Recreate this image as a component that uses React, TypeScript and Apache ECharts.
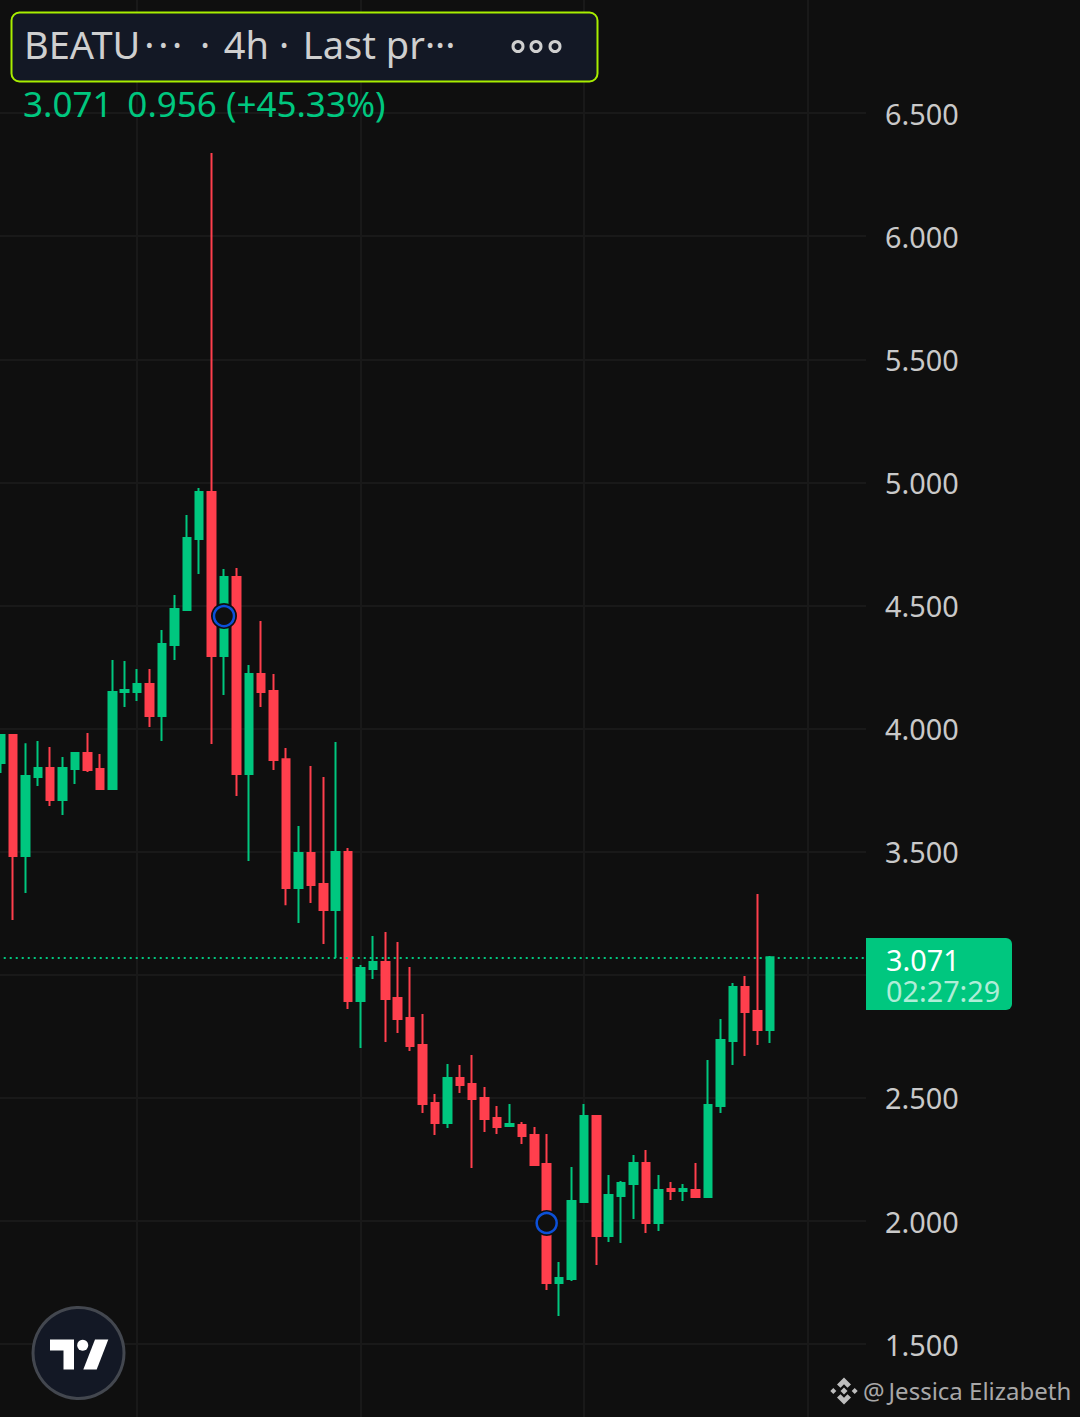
import React, { useEffect, useRef } from "react";
import * as echarts from "echarts";

const opens = [3.860,3.974,3.483,3.803,3.840,3.710,3.836,3.901,3.836,3.755,4.149,4.149,4.181,4.051,4.340,4.482,4.770,4.961,4.295,4.616,3.816,4.222,4.153,3.876,3.353,3.495,3.369,3.263,3.499,2.894,3.024,3.052,2.906,2.825,2.715,2.479,2.398,2.581,2.556,2.500,2.418,2.386,2.390,2.349,2.232,1.748,1.764,2.077,2.426,1.939,2.102,2.150,2.236,1.992,2.130,2.122,2.126,2.097,2.467,2.731,2.950,2.853,2.776];
const closes = [3.974,3.483,3.807,3.840,3.710,3.840,3.901,3.832,3.755,4.149,4.157,4.181,4.051,4.344,4.486,4.774,4.961,4.295,4.616,3.816,4.222,4.149,3.872,3.353,3.495,3.365,3.263,3.499,2.894,3.028,3.052,2.902,2.820,2.711,2.475,2.398,2.581,2.552,2.496,2.414,2.382,2.394,2.345,2.227,1.748,1.768,2.081,2.426,1.939,2.106,2.154,2.236,1.992,2.126,2.122,2.130,2.097,2.471,2.735,2.950,2.849,2.776,3.071];
const lows = [3.820,3.223,3.332,3.767,3.686,3.649,3.775,3.824,3.755,3.755,4.088,4.112,4.006,3.950,4.279,4.482,4.628,3.937,4.136,3.726,3.462,4.088,3.832,3.283,3.210,3.292,3.125,3.068,2.861,2.703,2.983,2.727,2.764,2.690,2.439,2.349,2.378,2.520,2.215,2.361,2.353,2.382,2.313,2.227,1.720,1.614,1.756,2.077,1.821,1.915,1.911,2.008,1.951,1.959,2.085,2.081,2.093,2.097,2.439,2.634,2.670,2.715,2.723];
const highs = [3.974,3.978,3.941,3.950,3.925,3.885,3.901,3.982,3.897,4.279,4.275,4.242,4.242,4.400,4.543,4.868,4.977,6.338,4.648,4.652,4.258,4.437,4.222,3.921,3.604,3.848,3.803,3.946,3.515,3.040,3.158,3.174,3.133,3.032,2.841,2.516,2.638,2.634,2.674,2.544,2.467,2.475,2.402,2.382,2.353,1.833,2.219,2.475,2.431,2.187,2.162,2.268,2.288,2.187,2.158,2.150,2.236,2.654,2.820,2.967,2.995,3.328,3.076];

// Bars sit on a slot axis whose day gridlines fall on multiples of 18 slots.
const firstSlot = 7;
const lastPrice = 3.071;
const markerPoints = [[25, 4.457], [51, 1.992]];
const headerTitle = "BEATU\u200a\u00b7\u200a\u00b7\u200a\u00b7";
const headerRest = "\u00b7 \u200a4h \u00b7 \u200aLast pr\u00b7\u00b7\u00b7";
const headerValues = "3.071 \u20090.956 (+45.33%)";
const tagPrice = "3.071";
const tagCountdown = "02:27:29";
const watermark = "@\u2009Jessica Elizabeth";

const GREEN = "#00C77F";
const RED = "#FF3F4D";
const BG = "#0F0F0F";
const GRID = "#191919";
const PANEL = "#131825";
const FONT = '"Noto Sans", sans-serif';

export default function App() {
  const ref = useRef<HTMLDivElement>(null);
  useEffect(() => {
    const chart = echarts.init(ref.current!, undefined, { renderer: "svg" });
    const candleData = opens.map((o, i) => [firstSlot + i, o, closes[i], lows[i], highs[i]]);
    const wm = (pts: number[][]) => ({
      type: "polygon",
      z: 10,
      shape: { points: pts.map(([a, b]) => [844 + a, 1391 + b]) },
      style: { fill: "#BDBDBD" },
    });
    chart.setOption({
      animation: false,
      backgroundColor: BG,
      grid: { left: -86.27, top: -10, width: 952.27, height: 1477.2, containLabel: false, outerBoundsMode: "none" },
      xAxis: {
        type: "value",
        min: 0,
        max: 76.73,
        interval: 18,
        axisLine: { show: false },
        axisTick: { show: false },
        axisLabel: { show: false },
        splitLine: { show: true, showMaxLine: false, lineStyle: { color: GRID, width: 2 } },
      },
      yAxis: {
        type: "value",
        position: "right",
        min: 1,
        max: 7,
        interval: 0.5,
        axisLine: { show: false },
        axisTick: { show: false },
        splitLine: { show: true, lineStyle: { color: GRID, width: 2 } },
        axisLabel: {
          show: true,
          align: "left",
          margin: 19,
          padding: [0, 0, 3, 0],
          color: "#C9C9C9",
          fontFamily: FONT,
          fontSize: 28.8,
          formatter: (v: number) => (v === 1 || v === 7 || v === 3 ? "" : v.toFixed(3)),
        },
      },
      series: [
        {
          type: "candlestick",
          data: candleData,
          encode: { x: 0, y: [1, 2, 3, 4] },
          barWidth: 8,
          clip: true,
          itemStyle: {
            color: GREEN,
            color0: RED,
            borderColor: GREEN,
            borderColor0: RED,
            borderWidth: 2,
          },
          markLine: {
            silent: true,
            symbol: "none",
            label: { show: false },
            lineStyle: { color: GREEN, type: [2, 4], width: 2 },
            data: [{ yAxis: lastPrice }],
          },
        },
        {
          type: "scatter",
          data: markerPoints,
          symbolSize: 26,
          z: 3,
          itemStyle: { color: BG, opacity: 1 },
        },
        {
          type: "scatter",
          data: markerPoints,
          symbolSize: 20,
          z: 4,
          itemStyle: { color: BG, borderColor: "#0C50D8", borderWidth: 2.5, opacity: 1 },
        },
      ],
      graphic: [
        {
          type: "rect",
          z: 10,
          shape: { x: 11.5, y: 12.5, width: 586, height: 69, r: 8 },
          style: { fill: PANEL, stroke: "#A8EE00", lineWidth: 2 },
        },
        {
          type: "text", z: 11, x: 24, y: 44,
          style: { text: headerTitle, fill: "#CFCFCF", font: `38px ${FONT}`, verticalAlign: "middle" },
        },
        {
          type: "text", z: 11, x: 200, y: 44,
          style: { text: headerRest, fill: "#CFCFCF", font: `38px ${FONT}`, verticalAlign: "middle" },
        },
        ...[518, 536, 555].map((x) => ({
          type: "circle", z: 11,
          shape: { cx: x, cy: 46.5, r: 5 },
          style: { fill: "none", stroke: "#CFCFCF", lineWidth: 3 },
        })),
        {
          type: "text", z: 11, x: 23, y: 103,
          style: { text: headerValues, fill: GREEN, font: `35px ${FONT}`, verticalAlign: "middle" },
        },
        {
          type: "rect",
          z: 10,
          shape: { x: 866, y: 938, width: 146, height: 72, r: [0, 6, 6, 0] },
          style: { fill: GREEN },
        },
        {
          type: "text", z: 11, x: 886, y: 974.5,
          style: {
            text: `{a|${tagPrice}}\n{b|${tagCountdown}}`,
            verticalAlign: "middle",
            rich: {
              a: { fill: "#FFFFFF", font: `28.8px ${FONT}`, lineHeight: 31 },
              b: { fill: "rgba(255,255,255,0.7)", font: `28.8px ${FONT}`, lineHeight: 31 },
            },
          },
        },
        {
          type: "circle", z: 10,
          shape: { cx: 78.5, cy: 1353, r: 45.5 },
          style: { fill: PANEL, stroke: "#43474F", lineWidth: 3 },
        },
        {
          type: "polygon", z: 11,
          shape: { points: [[50, 1339.5], [74, 1339.5], [74, 1369.5], [63.5, 1369.5], [63.5, 1350.5], [50, 1350.5]] },
          style: { fill: "#FFFFFF" },
        },
        { type: "circle", z: 11, shape: { cx: 82.7, cy: 1345.3, r: 5.5 }, style: { fill: "#FFFFFF" } },
        {
          type: "polygon", z: 11,
          shape: { points: [[108.3, 1339.5], [96.7, 1369.5], [83.3, 1369.5], [95, 1339.5]] },
          style: { fill: "#FFFFFF" },
        },
        wm([[0, -13.5], [7, -6.5], [3.5, -3.2], [0, -6.7], [-3.5, -3.2], [-7, -6.5]]),
        wm([[0, 13.5], [7, 6.5], [3.5, 3.2], [0, 6.7], [-3.5, 3.2], [-7, 6.5]]),
        wm([[-13.7, 0], [-10.7, -3], [-7.7, 0], [-10.7, 3]]),
        wm([[13.7, 0], [10.7, -3], [7.7, 0], [10.7, 3]]),
        wm([[-3.5, 0], [0, -3.5], [3.5, 0], [0, 3.5]]),
        {
          type: "text", z: 11, x: 863, y: 1390,
          style: { text: watermark, fill: "#A8A8A8", font: `24px ${FONT}`, verticalAlign: "middle" },
        },
      ],
    });
    return () => chart.dispose();
  }, []);
  return (
    <div
      ref={ref}
      style={{ position: "absolute", left: 0, top: 0, width: 1080, height: 1417, background: BG }}
    />
  );
}
